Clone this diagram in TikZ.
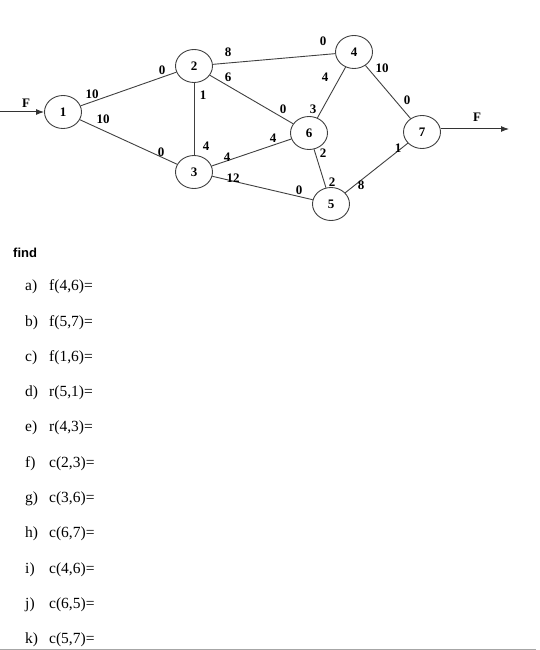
\documentclass[tikz,border=0pt]{standalone}
\usepackage{fontspec}
\setmainfont{Liberation Serif}
\setsansfont{Liberation Sans}
\usetikzlibrary{shapes.geometric,arrows.meta}

\tikzset{
  vertex/.style={ellipse,draw=black!75,line width=.9pt,minimum width=37pt,minimum height=33pt,inner sep=0pt,font=\fontsize{13}{13}\selectfont\bfseries},
  edge/.style={draw=black!75,line width=.9pt},
  capl/.style={font=\fontsize{13}{13}\selectfont\bfseries,inner sep=0pt},
  flow/.style={draw=black!80,line width=1pt,-{Latex[length=8pt,width=6pt]}},
  item/.style={anchor=west,font=\fontsize{15.5}{16}\selectfont,inner sep=0pt}
}

\begin{document}
\begin{tikzpicture}[x=1pt,y=-1pt]
\path[use as bounding box] (0,0) rectangle (540,650);
% vertices
\node[vertex] (n1) at (63,112) {1};
\node[vertex] (n2) at (194,66) {2};
\node[vertex] (n3) at (194,172) {3};
\node[vertex] (n4) at (354,52) {4};
\node[vertex] (n6) at (309,133) {6};
\node[vertex] (n7) at (422,132) {7};
\node[vertex] (n5) at (331,204) {5};
% source and sink
\coordinate (fin) at (0,112);
\coordinate (fout) at (509,129);
\draw[flow] (fin) -- (n1);
\draw[flow] ([yshift=3pt]n7.east) -- (fout);
\node[capl] (fl1) at (26,103) {F};
\node[capl] (fl2) at (477,117) {F};
% edges
\draw[edge] (n1) -- (n2);
\draw[edge] (n1) -- (n3);
\draw[edge] (n2) -- (n3);
\draw[edge] (n2) -- (n4);
\draw[edge] (n2) -- (n6);
\draw[edge] (n3) -- (n6);
\draw[edge] (n3) -- (n5);
\draw[edge] (n4) -- (n6);
\draw[edge] (n4) -- (n7);
\draw[edge] (n6) -- (n5);
\draw[edge] (n5) -- (n7);
% residual capacities
\node[capl] (c12) at (92,94) {10};
\node[capl] (c21) at (162,70) {0};
\node[capl] (c13) at (103,119) {10};
\node[capl] (c31) at (161,152) {0};
\node[capl] (c23) at (203,95) {1};
\node[capl] (c32) at (206,146) {4};
\node[capl] (c24) at (228,52) {8};
\node[capl] (c42) at (323,41) {0};
\node[capl] (c26) at (228,77) {6};
\node[capl] (c62) at (283,109) {0};
\node[capl] (c36) at (227,157) {4};
\node[capl] (c63) at (273,138) {4};
\node[capl] (c35) at (233,178) {12};
\node[capl] (c53) at (299,190) {0};
\node[capl] (c46) at (325,77) {4};
\node[capl] (c64) at (313,109) {3};
\node[capl] (c47) at (382,68) {10};
\node[capl] (c74) at (407,100) {0};
\node[capl] (c65) at (323,153) {2};
\node[capl] (c56) at (332,182) {2};
\node[capl] (c57) at (361,185) {8};
\node[capl] (c75) at (398,148) {1};
% questions
\node[anchor=west,inner sep=0pt,font=\sffamily\bfseries\fontsize{13}{13}\selectfont] (find) at (13,253) {find};
\foreach \lab/\txt [count=\i from 0] in {a/{f(4,6)=},b/{f(5,7)=},c/{f(1,6)=},d/{r(5,1)=},e/{r(4,3)=},f/{c(2,3)=},g/{c(3,6)=},h/{c(6,7)=},i/{c(4,6)=},j/{c(6,5)=},k/{c(5,7)=}} {
  \node[item] (l\lab) at (25,287+35.3*\i) {\lab)};
  \node[item] (q\lab) at (49,287+35.3*\i) {\txt};
}
\draw[black!35,line width=.8pt] (0,649) -- (536,649);
\end{tikzpicture}
\end{document}
